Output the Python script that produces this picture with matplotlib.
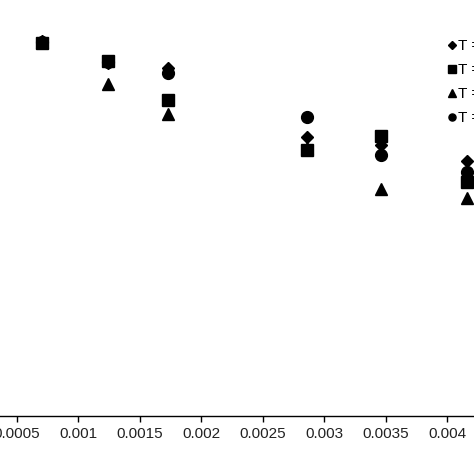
import numpy as np
import matplotlib
matplotlib.use('Agg')
import matplotlib.pyplot as plt

plt.rcParams['font.family'] = ['Liberation Sans', 'DejaVu Sans']

# x positions of the six measurement groups
x = [0.0007, 0.00124, 0.00173, 0.00286, 0.00346, 0.00416]

# values per temperature series (y axis not shown in the crop)
y_diamond = [0.901, 0.849, 0.837, 0.671, 0.651, 0.613]
y_square = [0.897, 0.853, 0.760, 0.639, 0.673, 0.563]
y_triangle = [0.899, 0.798, 0.726, 0.644, 0.546, 0.524]
y_circle = [0.899, 0.851, 0.825, 0.719, 0.627, 0.587]

labels = ['T = 20 °C', 'T = 30 °C', 'T = 40 °C', 'T = 50 °C']
xticks = [0.0005, 0.001, 0.0015, 0.002, 0.0025, 0.003, 0.0035, 0.004]
xticklabels = ['0.0005', '0.001', '0.0015', '0.002', '0.0025', '0.003', '0.0035', '0.004']

fig = plt.figure(figsize=(4.74, 4.74), dpi=100)
ax = fig.add_axes([0, 58 / 474, 1, 416 / 474])

# circles first so the others sit on top, like the original
ax.plot(x, y_circle, 'o', color='black', ms=8.5, label=labels[3], zorder=2)
ax.plot(x, y_triangle, '^', color='black', ms=9, label=labels[2], zorder=3)
ax.plot(x, y_square, 's', color='black', ms=9, label=labels[1], zorder=4)
ax.plot(x, y_diamond, 'D', color='black', ms=6.5, label=labels[0], zorder=5)

ax.set_xlim(0.000362, 0.00422)
ax.set_ylim(0, 1.0)
ax.set_xticks(xticks)
ax.set_xticklabels(xticklabels, fontsize=11, color='#222222')
ax.set_yticks([])
for s in ['left', 'top', 'right']:
    ax.spines[s].set_visible(False)
ax.spines['bottom'].set_linewidth(1.0)
ax.tick_params(axis='x', direction='out', length=4, width=1, pad=4)

handles, labs = ax.get_legend_handles_labels()
order = [3, 2, 1, 0]
leg = ax.legend([handles[i] for i in order], [labs[i] for i in order],
                loc='upper left', bbox_to_anchor=(0.917, 0.946),
                bbox_transform=fig.transFigure, frameon=False,
                fontsize=11, handlelength=0.5, handletextpad=0.15,
                labelspacing=0.65, markerscale=0.6)

fig.savefig('out.png', dpi=100)
